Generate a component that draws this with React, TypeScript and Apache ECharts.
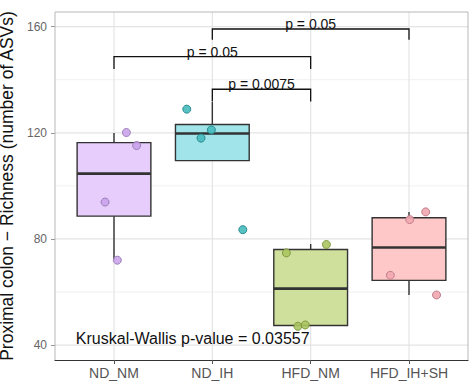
import React, { useEffect, useRef } from "react";
import * as echarts from "echarts";

const categories = ["ND_NM", "ND_IH", "HFD_NM", "HFD_IH+SH"];

// box statistics per group
const boxMin = [72.2, 109.5, 47.4, 58.9];
const boxQ1 = [88.6, 109.5, 47.4, 64.4];
const boxMedian = [104.6, 119.7, 61.3, 76.8];
const boxQ3 = [116.3, 123.1, 76.0, 88.0];
const boxMax = [119.9, 131.6, 78.1, 90.2];

// jittered points (values and horizontal jitter offsets)
const ptsND_NM = [120.1, 115.2, 93.9, 72.0];
const jitND_NM = [0.126, 0.23, -0.091, 0.034];
const ptsND_IH = [128.9, 121.1, 118.0, 83.5];
const jitND_IH = [-0.26, -0.01, -0.115, 0.31];
const ptsHFD_NM = [74.75, 77.9, 47.1, 47.6];
const jitHFD_NM = [-0.247, 0.16, -0.13, -0.055];
const ptsHFD_IHSH = [90.2, 87.3, 66.3, 58.9];
const jitHFD_IHSH = [0.17, 0.007, -0.19, 0.28];

const groupPoints = [ptsND_NM, ptsND_IH, ptsHFD_NM, ptsHFD_IHSH];
const groupJitter = [jitND_NM, jitND_IH, jitHFD_NM, jitHFD_IHSH];

// significance brackets: [from group, to group, bar height, leg end]
const bracketFrom = [2, 1, 2];
const bracketTo = [4, 3, 3];
const bracketTop = [159.1, 148.7, 136.4];
const bracketLeg = [155.0, 144.0, 131.8];
const bracketLabels = ["p = 0.05", "p = 0.05", "p = 0.0075"];

const yTicks = [40, 80, 120, 160];
const yMinor = [60, 100, 140];

const kwText = "Kruskal-Wallis p-value = 0.03557";
const kwPos = [0.612, 42.5];

const boxFill = ["#e7cdfb", "#a1e4e9", "#cfe09c", "#ffc8c8"];
const ptFill = ["rgba(200,160,235,0.85)", "rgba(70,186,190,0.9)", "rgba(170,196,98,0.9)", "rgba(242,166,175,0.9)"];
const ptBorder = ["#9b7fb8", "#2a8c90", "#7f9a3f", "#c07f88"];

const FONT = "'Liberation Sans', Arial, Helvetica, sans-serif";

export default function App() {
  const ref = useRef<HTMLDivElement>(null);
  useEffect(() => {
    if (!ref.current) return;
    const chart = echarts.init(ref.current, null, { renderer: "svg" });

    const gridSeries: any = {
      type: "custom",
      z: 0,
      silent: true,
      data: [[1, 100]],
      encode: { x: 0, y: 1 },
      renderItem: (params: any, api: any) => {
        const cs = params.coordSys;
        const children: any[] = [];
        yMinor.forEach((v) => {
          const p = api.coord([1, v]);
          children.push({ type: "line", shape: { x1: cs.x, y1: p[1], x2: cs.x + cs.width, y2: p[1] }, style: { stroke: "#f1f1f1", lineWidth: 1 } });
        });
        yTicks.forEach((v) => {
          const p = api.coord([1, v]);
          children.push({ type: "line", shape: { x1: cs.x, y1: p[1], x2: cs.x + cs.width, y2: p[1] }, style: { stroke: "#e4e4e4", lineWidth: 1.2 } });
        });
        categories.forEach((_, i) => {
          const p = api.coord([i + 1, 100]);
          children.push({ type: "line", shape: { x1: p[0], y1: cs.y, x2: p[0], y2: cs.y + cs.height }, style: { stroke: "#e4e4e4", lineWidth: 1.2 } });
        });
        const bx = { stroke: "#b8b8b8", lineWidth: 1 };
        children.push({ type: "line", shape: { x1: cs.x, y1: cs.y, x2: cs.x, y2: cs.y + cs.height }, style: bx });
        children.push({ type: "line", shape: { x1: cs.x, y1: cs.y, x2: cs.x + cs.width, y2: cs.y }, style: bx });
        children.push({ type: "line", shape: { x1: cs.x + cs.width, y1: cs.y, x2: cs.x + cs.width, y2: cs.y + cs.height }, style: bx });
        return { type: "group", children };
      },
    };

    const boxSeries: any = {
      type: "custom",
      z: 2,
      silent: true,
      data: categories.map((_, i) => [i + 1, boxMin[i], boxQ1[i], boxMedian[i], boxQ3[i], boxMax[i]]),
      encode: { x: 0, y: [1, 2, 3, 4, 5] },
      renderItem: (params: any, api: any) => {
        const i = params.dataIndex;
        const x = api.value(0);
        const pMin = api.coord([x, api.value(1)]);
        const pQ1 = api.coord([x, api.value(2)]);
        const pMed = api.coord([x, api.value(3)]);
        const pQ3 = api.coord([x, api.value(4)]);
        const pMax = api.coord([x, api.value(5)]);
        const half = api.size([0.75, 0])[0] / 2;
        const cx = pMed[0];
        const stroke = "#333333";
        return {
          type: "group",
          children: [
            { type: "line", shape: { x1: cx, y1: pQ3[1], x2: cx, y2: pMax[1] }, style: { stroke, lineWidth: 1.4 } },
            { type: "line", shape: { x1: cx, y1: pQ1[1], x2: cx, y2: pMin[1] }, style: { stroke, lineWidth: 1.4 } },
            { type: "rect", shape: { x: cx - half, y: pQ3[1], width: half * 2, height: pQ1[1] - pQ3[1] }, style: { fill: boxFill[i], stroke, lineWidth: 1.4 } },
            { type: "line", shape: { x1: cx - half, y1: pMed[1], x2: cx + half, y2: pMed[1] }, style: { stroke, lineWidth: 2.6 } },
          ],
        };
      },
    };

    const pointSeries: any[] = categories.map((_, i) => ({
      type: "scatter",
      z: 3,
      silent: true,
      symbol: "circle",
      symbolSize: 8,
      itemStyle: { color: ptFill[i], borderColor: ptBorder[i], borderWidth: 1, opacity: 1 },
      data: groupPoints[i].map((v, j) => [i + 1 + groupJitter[i][j], v]),
    }));

    const bracketSeries: any = {
      type: "custom",
      z: 4,
      silent: true,
      data: bracketFrom.map((f, i) => [f, bracketTo[i], bracketTop[i], bracketLeg[i]]),
      encode: { x: [0, 1], y: [2, 3] },
      renderItem: (params: any, api: any) => {
        const i = params.dataIndex;
        const a = api.coord([api.value(0), api.value(2)]);
        const b = api.coord([api.value(1), api.value(2)]);
        const la = api.coord([api.value(0), api.value(3)]);
        const lb = api.coord([api.value(1), api.value(3)]);
        return {
          type: "group",
          children: [
            { type: "polyline", shape: { points: [[la[0], la[1]], [a[0], a[1]], [b[0], b[1]], [lb[0], lb[1]]] }, style: { stroke: "#111", lineWidth: 1.3, fill: null } },
            { type: "text", style: { text: bracketLabels[i], x: (a[0] + b[0]) / 2, y: a[1] + 2, textAlign: "center", textVerticalAlign: "bottom", fontSize: 14, fontFamily: FONT, fill: "#111" } },
          ],
        };
      },
    };

    const textSeries: any = {
      type: "custom",
      z: 5,
      silent: true,
      data: [kwPos],
      encode: { x: 0, y: 1 },
      renderItem: (params: any, api: any) => {
        const p = api.coord([api.value(0), api.value(1)]);
        return { type: "text", style: { text: kwText, x: p[0], y: p[1], textAlign: "left", textVerticalAlign: "middle", fontSize: 16, fontFamily: FONT, fill: "#111" } };
      },
    };

    chart.setOption({
      animation: false,
      grid: { left: 55, right: 6, top: 12, bottom: 21, containLabel: false, outerBoundsMode: "none" },
      xAxis: {
        type: "value",
        min: 0.4,
        max: 4.6,
        splitLine: { show: false },
        axisLine: { show: true, onZero: false, lineStyle: { color: "#333", width: 1.2 } },
        axisTick: { show: true, customValues: [1, 2, 3, 4], length: 4, lineStyle: { color: "#555" } },
        axisLabel: {
          customValues: [1, 2, 3, 4],
          formatter: (v: number) => categories[Math.round(v) - 1] ?? "",
          color: "#555",
          fontSize: 14,
          fontFamily: FONT,
          margin: 6,
        },
      },
      yAxis: {
        type: "value",
        min: 34.4,
        max: 165.5,
        name: "Proximal colon − Richness (number of ASVs)",
        nameLocation: "middle",
        nameRotate: 90,
        nameGap: 38,
        nameTextStyle: { fontSize: 17.5, fontFamily: FONT, color: "#111" },
        splitLine: { show: false },
        axisLine: { show: false },
        axisTick: { show: true, customValues: yTicks, length: 4, lineStyle: { color: "#999" } },
        axisLabel: { customValues: yTicks, color: "#666", fontSize: 12, fontFamily: FONT, margin: 8 },
      },
      series: [gridSeries, boxSeries, ...pointSeries, bracketSeries, textSeries],
    });
    return () => chart.dispose();
  }, []);
  return <div ref={ref} style={{ width: 474, height: 381, position: "absolute", left: 0, top: 0, background: "#fff" }} />;
}
